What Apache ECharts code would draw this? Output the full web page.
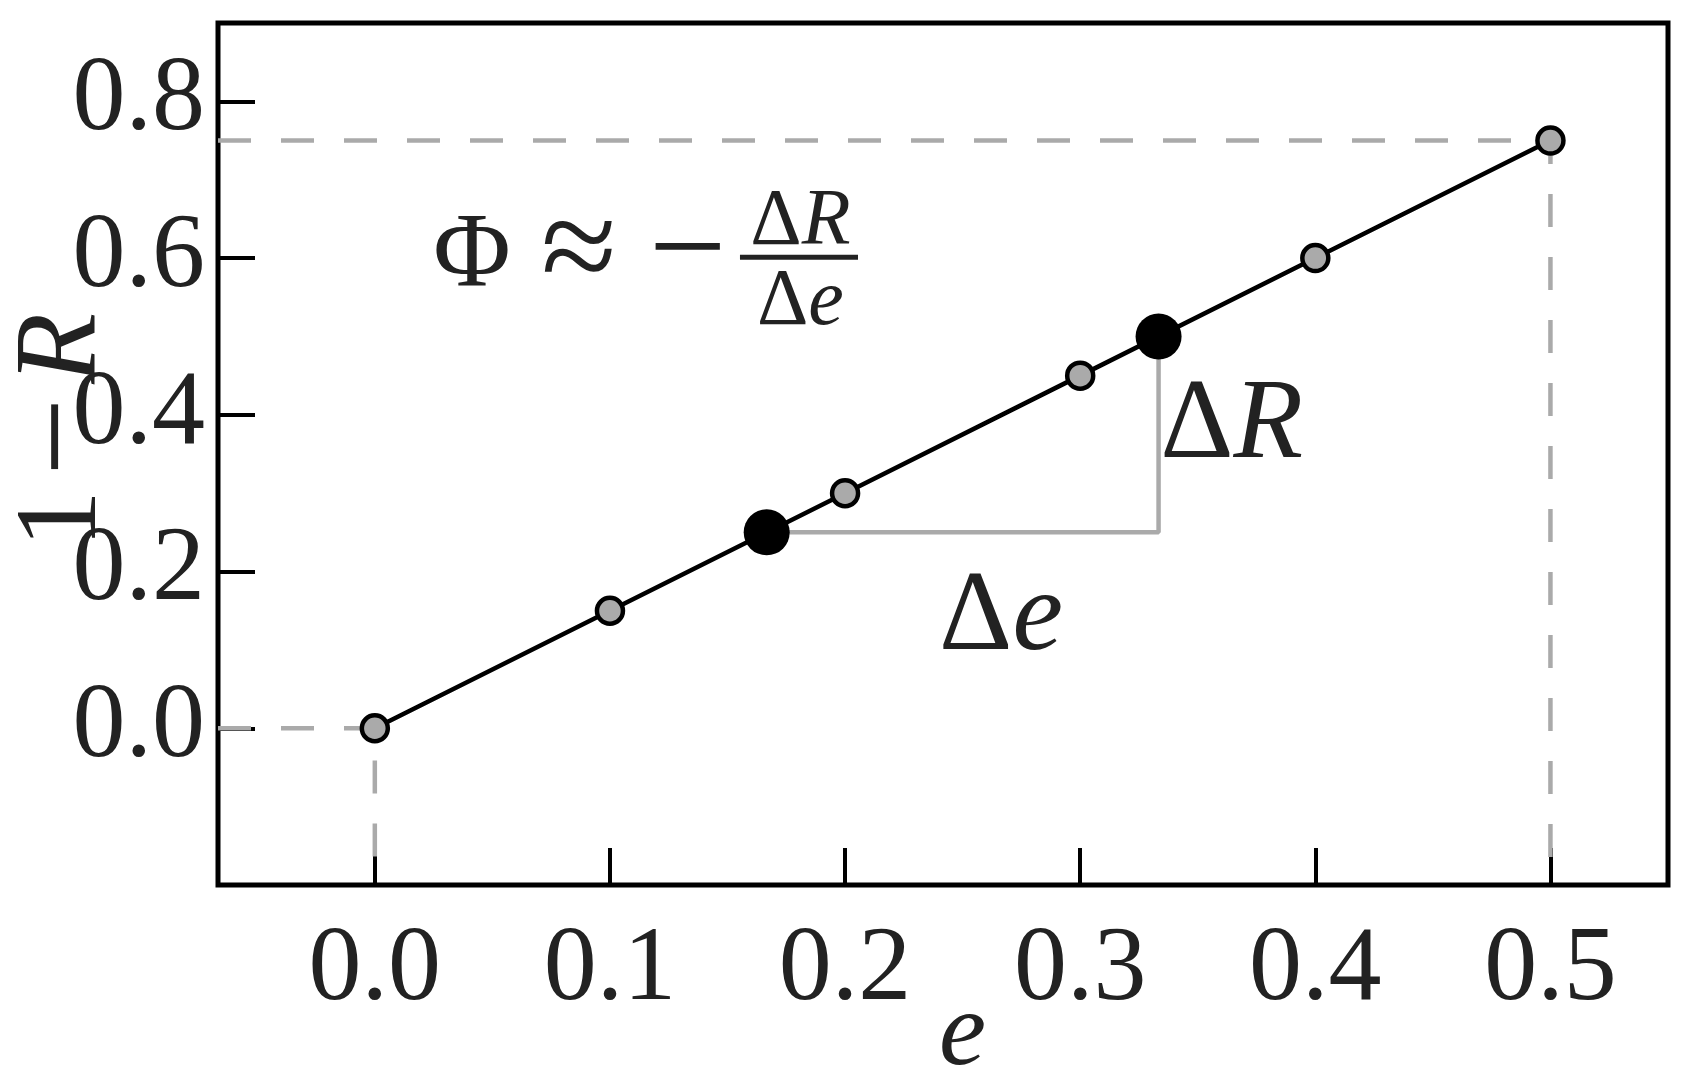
<!DOCTYPE html>
<html>
<head>
<meta charset="utf-8">
<script src="https://cdn.jsdelivr.net/npm/echarts@6/dist/echarts.min.js"></script>
<style>
  html, body { margin: 0; padding: 0; background: #ffffff; }
  #chart { width: 1697px; height: 1075px; }
</style>
</head>
<body>
<div id="chart"></div>
<script>
// ---- data ----
const eValues = [0, 0.1, 0.2, 0.3, 0.4, 0.5];
const rValues = [0, 0.15, 0.3, 0.45, 0.6, 0.75];
const bigE = [1 / 6, 1 / 3];
const bigR = [0.25, 0.5];
const xTickValues = [0, 0.1, 0.2, 0.3, 0.4, 0.5];
const yTickValues = [0, 0.2, 0.4, 0.6, 0.8];
const X_MIN = -0.0667, X_MAX = 0.55;
const Y_MIN = -0.2, Y_MAX = 0.9;
const lastE = 0.5, lastR = 0.75;

const FONT = 'Liberation Serif';
const GRAY = '#aaaaaa';
const BIG = 106;

const chart = echarts.init(document.getElementById('chart'), null, { renderer: 'canvas' });

const mainData = eValues.map((e, i) => [e, rValues[i]]);
const bigData = bigE.map((e, i) => [e, bigR[i]]);
const stepData = [[bigE[0], bigR[0]], [bigE[1], bigR[0]], [bigE[1], bigR[1]]];
const dashTop = [[X_MIN, lastR], [lastE, lastR], [lastE, Y_MIN]];
const dashZero = [[X_MIN, rValues[0]], [eValues[0], rValues[0]], [eValues[0], Y_MIN]];

const helper = (data, style, z) => ({
  type: 'line', data, symbol: 'none', showSymbol: false, z,
  lineStyle: style, silent: true, animation: false
});

chart.setOption({
  animation: false,
  backgroundColor: '#ffffff',
  grid: {
    left: 218, top: 23, right: 29, bottom: 190,
    show: true, borderColor: '#000', borderWidth: 5, backgroundColor: 'transparent'
  },
  xAxis: {
    type: 'value', min: X_MIN, max: X_MAX, position: 'bottom',
    axisLine: { show: false, onZero: false },
    splitLine: { show: false },
    axisTick: { show: true, inside: true, length: 37, customValues: xTickValues,
      lineStyle: { color: '#000', width: 4 } },
    axisLabel: { show: true, customValues: xTickValues, margin: 33,
      formatter: v => v.toFixed(1),
      fontFamily: FONT, fontSize: BIG, color: '#222', lineHeight: BIG }
  },
  yAxis: {
    type: 'value', min: Y_MIN, max: Y_MAX, position: 'left',
    axisLine: { show: false, onZero: false },
    splitLine: { show: false },
    axisTick: { show: true, inside: true, length: 37, customValues: yTickValues,
      lineStyle: { color: '#000', width: 4 } },
    axisLabel: { show: true, customValues: yTickValues, margin: 13,
      formatter: v => v.toFixed(1),
      fontFamily: FONT, fontSize: BIG, color: '#222', lineHeight: BIG }
  },
  series: [
    helper(dashTop, { color: GRAY, width: 4.5, type: [33, 30] }, 1),
    helper(dashZero, { color: GRAY, width: 4.5, type: [33, 30] }, 1),
    helper(stepData, { color: GRAY, width: 4.5 }, 2),
    {
      type: 'line', data: mainData, z: 3, animation: false,
      lineStyle: { color: '#000', width: 4.5 },
      symbol: 'circle', symbolSize: 26, showSymbol: true,
      itemStyle: { color: GRAY, borderColor: '#000', borderWidth: 4.5, opacity: 1 }
    },
    {
      type: 'scatter', data: bigData, z: 4, animation: false,
      symbol: 'circle', symbolSize: 46,
      itemStyle: { color: '#000', opacity: 1 }
    }
  ]
});

// ---- annotations placed in data coordinates ----
const P = (x, y) => chart.convertToPixel({ gridIndex: 0 }, [x, y]);
function label(x, y, rich, text, size, align, rotation) {
  const p = P(x, y);
  return {
    type: 'text', x: p[0], y: p[1], rotation: rotation || 0, z: 100,
    style: {
      text, rich, align: align || 'left', verticalAlign: 'middle',
      fontFamily: FONT, fontSize: size, fill: '#222'
    }
  };
}
const richFor = size => ({
  u: { fontFamily: FONT, fontSize: size, fill: '#222', fontStyle: 'normal' },
  i: { fontFamily: FONT, fontSize: size, fill: '#222', fontStyle: 'italic' },
  m: { fontFamily: FONT, fontSize: Math.round(size * 1.2), fill: '#222', fontStyle: 'normal', padding: [0, 14] }
});
const SMALL = 80;
const ANN = 114;
const barA = P(0.1553, 0.601), barB = P(0.2055, 0.601);

chart.setOption({
  graphic: [
    label(0.0413, 0.600, richFor(BIG), '{u|Φ}', BIG, 'center'),
    label(0.0868, 0.603, richFor(Math.round(BIG * 1.3)), '{u|≈}', Math.round(BIG * 1.3), 'center'),
    label(0.1330, 0.603, richFor(Math.round(BIG * 1.3)), '{u|−}', Math.round(BIG * 1.3), 'center'),
    label(0.1810, 0.645, richFor(SMALL), '{u|Δ}{i|R}', SMALL, 'center'),
    label(0.1810, 0.543, richFor(SMALL), '{u|Δ}{i|e}', SMALL, 'center'),
    {
      type: 'line', z: 100,
      shape: { x1: barA[0], y1: barA[1], x2: barB[0], y2: barB[1] },
      style: { stroke: '#222', lineWidth: 5 }
    },
    label(0.334, 0.384, richFor(ANN), '{u|Δ}{i|R}', ANN, 'left'),
    label(0.240, 0.140, richFor(ANN), '{u|Δ}{i|e}', ANN, 'left'),
    label(0.25, -0.393, richFor(BIG), '{i|e}', BIG, 'center'),
    label(-0.1319, 0.380, richFor(116), '{u|1}{m|−}{i|R}', 116, 'center', Math.PI / 2)
  ]
});
</script>
</body>
</html>
